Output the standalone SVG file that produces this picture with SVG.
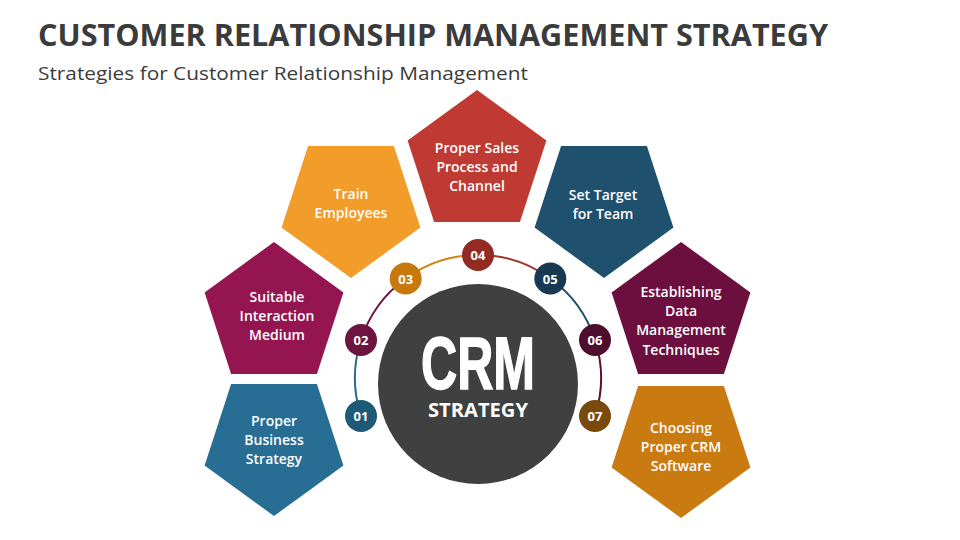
<svg xmlns="http://www.w3.org/2000/svg" width="960" height="540" viewBox="0 0 960 540">
<defs>
<polygon id="pu" points="0,-73 69.4,-22.6 42.9,59.1 -42.9,59.1 -69.4,-22.6"/>
<polygon id="pd" points="0,73 69.4,22.6 42.9,-59.1 -42.9,-59.1 -69.4,22.6"/>
</defs>
<style>
.t{font-family:"Open Sans","Liberation Sans",sans-serif;font-size:14px;font-weight:600;fill:#fff;text-anchor:middle}
.n{font-family:"Open Sans","Liberation Sans",sans-serif;font-size:13px;font-weight:bold;fill:#fff;text-anchor:middle}
.a{fill:none;stroke-width:2}
</style>
<rect width="960" height="540" fill="#fff"/>
<text x="38" y="46" font-family="Open Sans, Liberation Sans, sans-serif" font-weight="bold" font-size="31" fill="#3b3b3b" textLength="790" lengthAdjust="spacingAndGlyphs">CUSTOMER RELATIONSHIP MANAGEMENT STRATEGY</text>
<text x="38" y="80" font-family="Open Sans, Liberation Sans, sans-serif" font-size="19" fill="#3b3b3b" textLength="490" lengthAdjust="spacingAndGlyphs">Strategies for Customer Relationship Management</text>

<g id="p1"><use href="#pd" x="274" y="443" fill="#286d94"/><text class="t" x="274"><tspan x="274" y="426">Proper</tspan><tspan x="274" y="445">Business</tspan><tspan x="274" y="464">Strategy</tspan></text></g>
<g id="p2"><use href="#pu" x="274" y="315" fill="#951550"/><text class="t"><tspan x="277" y="302">Suitable</tspan><tspan x="277" y="321">Interaction</tspan><tspan x="277" y="340">Medium</tspan></text></g>
<g id="p3"><use href="#pd" x="351" y="205" fill="#f29c2a"/><text class="t"><tspan x="351" y="199">Train</tspan><tspan x="351" y="218">Employees</tspan></text></g>
<g id="p4"><use href="#pu" x="477" y="163" fill="#be3a32"/><text class="t"><tspan x="477" y="153">Proper Sales</tspan><tspan x="477" y="172">Process and</tspan><tspan x="477" y="191">Channel</tspan></text></g>
<g id="p5"><use href="#pd" x="604" y="205" fill="#1f506e"/><text class="t"><tspan x="603" y="200">Set Target</tspan><tspan x="603" y="219">for Team</tspan></text></g>
<g id="p6"><use href="#pu" x="681" y="315" fill="#6c0f3f"/><text class="t"><tspan x="681" y="297">Establishing</tspan><tspan x="681" y="316">Data</tspan><tspan x="681" y="335">Management</tspan><tspan x="681" y="355">Techniques</tspan></text></g>
<g id="p7"><use href="#pd" x="681" y="445" fill="#c97a10"/><text class="t"><tspan x="681" y="433">Choosing</tspan><tspan x="681" y="452">Proper CRM</tspan><tspan x="681" y="471">Software</tspan></text></g>

<g id="connectors">
<path class="a" stroke="#2a6a8f" d="M361,416 A123,123 0 0 1 361,340"/>
<path class="a" stroke="#6d1440" d="M361,340 A123,123 0 0 1 405.7,278.5"/>
<path class="a" stroke="#d0860f" d="M405.7,278.5 A123,123 0 0 1 478,255"/>
<path class="a" stroke="#a0352b" d="M478,255 A123,123 0 0 1 550.3,278.5"/>
<path class="a" stroke="#1f4e6b" d="M550.3,278.5 A123,123 0 0 1 595,340"/>
<path class="a" stroke="#5c0f35" d="M595,340 A123,123 0 0 1 595,416"/>
</g>

<g id="hub">
<circle cx="478" cy="384" r="100" fill="#404040"/>
<text x="478" y="389" font-family="Liberation Sans, sans-serif" font-weight="bold" font-size="74" fill="#fff" text-anchor="middle" textLength="114" lengthAdjust="spacingAndGlyphs" stroke="#fff" stroke-width="1.5">CRM</text>
<text x="478" y="417" font-family="Open Sans, Liberation Sans, sans-serif" font-weight="bold" font-size="19" fill="#fff" text-anchor="middle" textLength="100" lengthAdjust="spacingAndGlyphs">STRATEGY</text>
</g>

<g id="n1"><circle cx="361" cy="416" r="16" fill="#1e5a78"/><text class="n" x="361" y="421">01</text></g>
<g id="n2"><circle cx="361" cy="340" r="16" fill="#6d1440"/><text class="n" x="361" y="345">02</text></g>
<g id="n3"><circle cx="405.7" cy="278.5" r="16" fill="#c8790e"/><text class="n" x="405.7" y="283.5">03</text></g>
<g id="n4"><circle cx="478" cy="255" r="16" fill="#922b22"/><text class="n" x="478" y="260">04</text></g>
<g id="n5"><circle cx="550.3" cy="278.5" r="16" fill="#173a52"/><text class="n" x="550.3" y="283.5">05</text></g>
<g id="n6"><circle cx="595" cy="340" r="16" fill="#4e0f2e"/><text class="n" x="595" y="345">06</text></g>
<g id="n7"><circle cx="595" cy="416" r="16" fill="#7a4a0c"/><text class="n" x="595" y="421">07</text></g>
</svg>
